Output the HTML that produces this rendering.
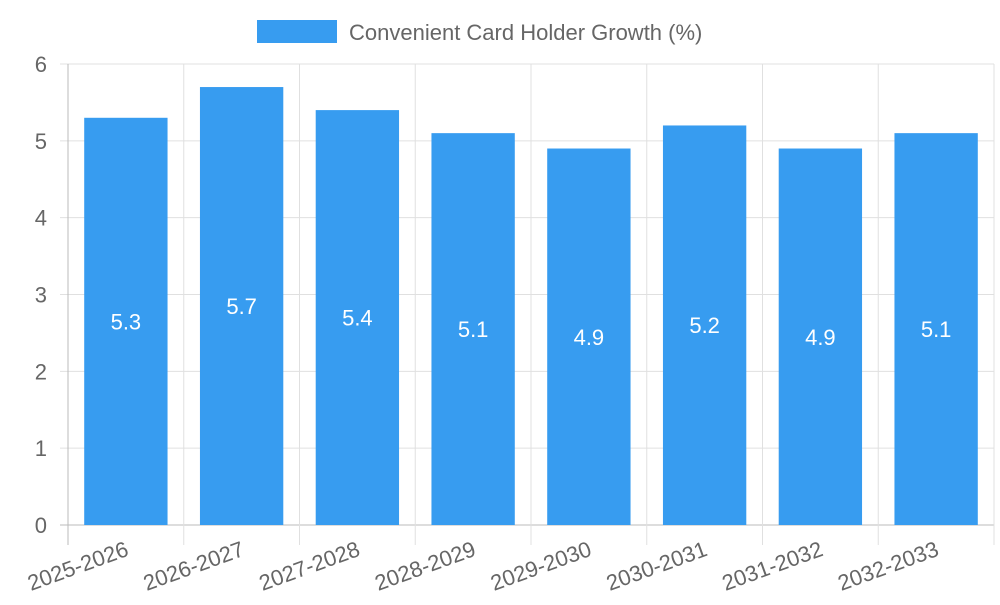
<!DOCTYPE html>
<html><head><meta charset="utf-8"><style>
body{margin:0;background:#fff;}
svg text{font-family:"Liberation Sans",sans-serif;}
</style></head><body>
<svg id="chart" width="1000" height="600">
<rect x="257" y="20" width="80" height="23" fill="#379cf0"/>
<text x="349" y="40" font-size="22" fill="#666">Convenient Card Holder Growth (%)</text>
<g id="grid"></g><g id="bars"></g><g id="labels"></g>
</svg>
<script>
const categories=["2025-2026","2026-2027","2027-2028","2028-2029","2029-2030","2030-2031","2031-2032","2032-2033"];
const values=[5.3,5.7,5.4,5.1,4.9,5.2,4.9,5.1];
const yTicks=[0,1,2,3,4,5,6];
const L=68,R=994,T=64,B=525,yMax=6;
const NS="http://www.w3.org/2000/svg";
const cw=(R-L)/categories.length;
const y=v=>B-(B-T)*v/yMax;
const x=i=>L+cw*i;
function mk(t,a,p){const e=document.createElementNS(NS,t);for(const k in a)e.setAttribute(k,a[k]);p.appendChild(e);return e;}
const g=document.getElementById('grid'),bg=document.getElementById('bars'),lg=document.getElementById('labels');
yTicks.forEach(t=>{
 const ln=mk('line',{x1:L-8,x2:R,y1:y(t),y2:y(t),stroke:t===0?'#bbb':'#e0e0e0','stroke-width':1},g);
 
 
 const tx=mk('text',{x:47,y:y(t)+8,'text-anchor':'end','font-size':22,fill:'#666'},g);
 tx.textContent=t;
 
 
});
for(let i=0;i<=categories.length;i++){
 const ln=mk('line',{x1:x(i),x2:x(i),y1:T,y2:B+20,stroke:i===0?'#bbb':'#e0e0e0','stroke-width':1},g);
 
 
}
categories.forEach((c,i)=>{
 const bw=cw*0.72,cx=x(i)+cw/2,v=values[i];
 const r=mk('rect',{x:cx-bw/2,y:y(v),width:bw,height:B-y(v),fill:'#379cf0'},bg);
 
 
 const vt=mk('text',{x:cx,y:(y(v)+B)/2+8,'text-anchor':'middle','font-size':22,fill:'#fff'},lg);
 vt.textContent=v.toFixed(1);
 
 
 const xt=mk('text',{x:cx+4,y:B+30,'text-anchor':'end','font-size':22,fill:'#666',transform:`rotate(-20 ${cx+4} ${B+30})`},lg);
 xt.textContent=c;
 
 
});
</script>
</body></html>
